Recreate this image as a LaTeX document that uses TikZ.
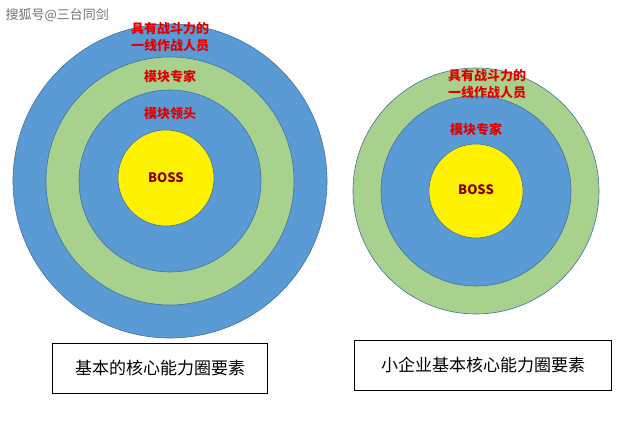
\documentclass[tikz,border=0pt]{standalone}
\usepackage{fontspec}
\setmainfont{Noto Sans CJK SC}
\definecolor{ringblue}{HTML}{5B9BD5}
\definecolor{ringgreen}{HTML}{A9D18E}
\definecolor{ringline}{HTML}{41719C}
\definecolor{labred}{HTML}{E00000}
\begin{document}
\begin{tikzpicture}[x=1pt,y=-1pt,
        ring/.style={circle, draw=ringline, line width=0.6pt, inner sep=0pt},
        lab/.style={text=labred, font=\bfseries\fontsize{13}{17}\selectfont, align=center},
        boss/.style={font=\bfseries\fontsize{13}{15}\selectfont, text=labred!60!black},
        capbox/.style={draw, line width=0.6pt, minimum height=50pt, font=\fontsize{17}{20}\selectfont}
    ]
        \useasboundingbox (0,0) rectangle (642,422);
        % watermark
        \node[text=black!55, font=\fontsize{13}{15}\selectfont, anchor=west] (mark) at (2,15) {搜狐号@三台同剑};

        % left rings
        \node[ring, fill=ringblue, minimum size=314pt] (l1) at (170,181) {};
        \node[ring, fill=ringgreen, minimum size=248pt] (l2) at (170,181) {};
        \node[ring, fill=ringblue, minimum size=182pt] (l3) at (170,181) {};
        \node[ring, fill=yellow, minimum size=96pt] (l4) at (166,178) {};
        \node[boss] (lboss) at (166,178) {BOSS};
        \node[lab] (lfront) at (170,37) {具有战斗力的\\一线作战人员};
        \node[lab] (lexp) at (170,77) {模块专家};
        \node[lab] (lhead) at (170,114) {模块领头};

        % right rings
        \node[ring, fill=ringgreen, minimum size=246pt] (r1) at (476,191) {};
        \node[ring, fill=ringblue, minimum size=190pt] (r2) at (476,191) {};
        \node[ring, fill=yellow, minimum size=94pt] (r3) at (476,191) {};
        \node[boss] (rboss) at (476,190) {BOSS};
        \node[lab] (rfront) at (487,84) {具有战斗力的\\一线作战人员};
        \node[lab] (rexp) at (476,130) {模块专家};

        % captions
        \node[capbox, minimum width=215pt] (lcap) at (160,368) {基本的核心能力圈要素};
        \node[capbox, minimum width=257pt] (rcap) at (483,365) {小企业基本核心能力圈要素};
\end{tikzpicture}
\end{document}
